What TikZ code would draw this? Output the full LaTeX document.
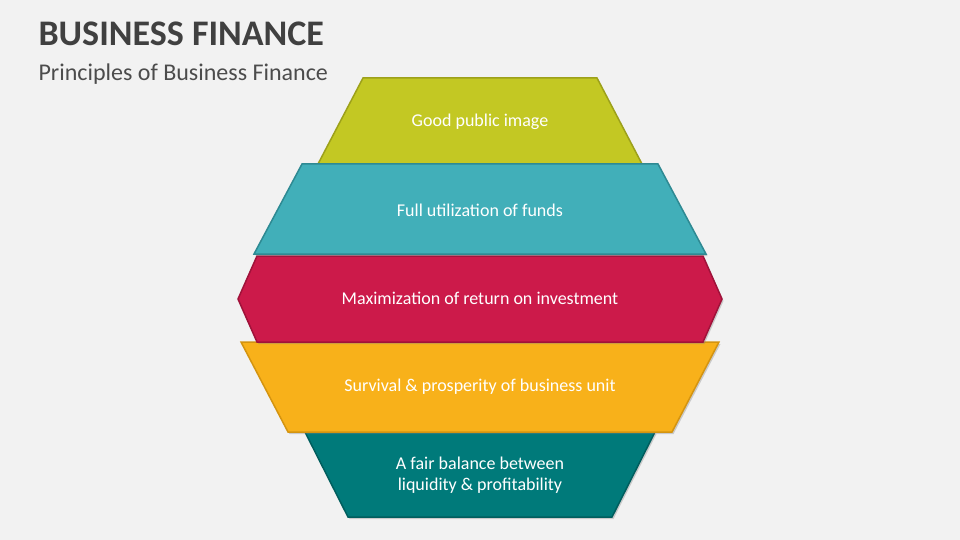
\documentclass[tikz,border=0pt]{standalone}
\usepackage{fontspec}
\setmainfont{Carlito}
\begin{document}
\begin{tikzpicture}[x=1pt,y=-1pt,
  band/.style={line width=1.5pt, line join=miter, drop shadow={shadow xshift=1.5pt,shadow yshift=-2pt,opacity=0.35}},
  lbl/.style={text=white, font=\fontsize{18}{21.5}\selectfont, align=center}]
\usetikzlibrary{shadows}
\definecolor{bg}{HTML}{F2F2F2}
\definecolor{c1}{HTML}{C3C823}\definecolor{d1}{HTML}{9DA11A}
\definecolor{c2}{HTML}{41AFB9}\definecolor{d2}{HTML}{2E8A93}
\definecolor{c3}{HTML}{CC1A4A}\definecolor{d3}{HTML}{A0123A}
\definecolor{c4}{HTML}{F8B11A}\definecolor{d4}{HTML}{D49410}
\definecolor{c5}{HTML}{007A7A}\definecolor{d5}{HTML}{005E5E}
\fill[bg] (0,0) rectangle (960,540);
\useasboundingbox (0,0) rectangle (960,540);
\node[anchor=west, font=\bfseries\fontsize{36}{40}\selectfont, text=black!75] (title) at (35,34) {BUSINESS FINANCE};
\node[anchor=west, font=\fontsize{24}{28}\selectfont, text=black!70] (sub) at (35,74) {Principles of Business Finance};
\draw[band, fill=c5, draw=d5] (305,432) -- (655,432) -- (612,517) -- (348,517) -- cycle;
\draw[band, fill=c4, draw=d4] (241,342) -- (719,342) -- (672,432) -- (288,432) -- cycle;
\draw[band, fill=c3, draw=d3] (257,256) -- (703,256) -- (722,299) -- (703,342) -- (257,342) -- (238,299) -- cycle;
\draw[band, fill=c1, draw=d1] (363,78) -- (597,78) -- (642,164) -- (318,164) -- cycle;
\draw[band, fill=c2, draw=d2] (302,164) -- (658,164) -- (706,254) -- (254,254) -- cycle;
\node[lbl] (t1) at (480,122) {Good public image};
\node[lbl] (t2) at (480,210) {Full utilization of funds};
\node[lbl] (t3) at (480,298) {Maximization of return on investment};
\node[lbl] (t4) at (480,387) {Survival \& prosperity of business unit};
\node[lbl] (t5) at (480,475) {A fair balance between\\liquidity \& profitability};
\end{tikzpicture}
\end{document}
